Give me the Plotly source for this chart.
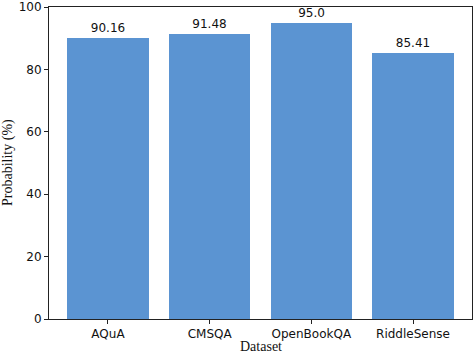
import plotly.graph_objects as go

categories = ["AQuA", "CMSQA", "OpenBookQA", "RiddleSense"]
values = [90.16, 91.48, 95.0, 85.41]
labels = ["90.16", "91.48", "95.0", "85.41"]
y_ticks = [0, 20, 40, 60, 80, 100]

W, H = 474, 355
L, R, T, B = 49, 2, 7, 36
pw, ph = W - L - R, H - T - B

fig = go.Figure()
fig.add_trace(go.Bar(
    x=list(range(len(categories))), y=values, width=0.8,
    marker=dict(color="#5b94d2", line=dict(width=0)),
    text=labels, textposition="outside", cliponaxis=False,
    textfont=dict(family="DejaVu Sans", size=12, color="#111"),
    hoverinfo="skip",
))
fig.update_layout(
    width=W, height=H,
    margin=dict(l=L, r=R, t=T, b=B, autoexpand=False),
    plot_bgcolor="white", paper_bgcolor="white",
    showlegend=False, bargap=0,
)
fig.update_xaxes(
    range=[-0.58, 3.58], tickvals=list(range(len(categories))), ticktext=categories,
    ticks="outside", ticklen=4, tickcolor="#222", automargin=False,
    showline=True, linecolor="#222", linewidth=1, mirror=True, showgrid=False,
    tickfont=dict(family="DejaVu Sans", size=12, color="#111"),
)
fig.update_yaxes(
    range=[0, 100], tickvals=y_ticks, ticktext=[str(v) for v in y_ticks],
    ticks="outside", ticklen=4, tickcolor="#222", automargin=False,
    showline=True, linecolor="#222", linewidth=1, mirror=True, showgrid=False, zeroline=False,
    tickfont=dict(family="DejaVu Sans", size=12, color="#111"),
)
fig.add_annotation(
    text="Dataset", xref="paper", yref="paper", x=0.5, y=-(346 - (T + ph)) / ph,
    xanchor="center", yanchor="middle", showarrow=False,
    font=dict(family="Liberation Serif", size=14, color="#111"),
)
fig.add_annotation(
    text="Probability (%)", xref="paper", yref="paper", x=-(L - 8) / pw, y=0.5,
    xanchor="center", yanchor="middle", showarrow=False, textangle=-90,
    font=dict(family="Liberation Serif", size=14, color="#111"),
)
fig.write_html(
    "out.html",
    config={"displayModeBar": False},
    post_script="document.body.style.margin='0';document.body.style.overflow='hidden';",
)
